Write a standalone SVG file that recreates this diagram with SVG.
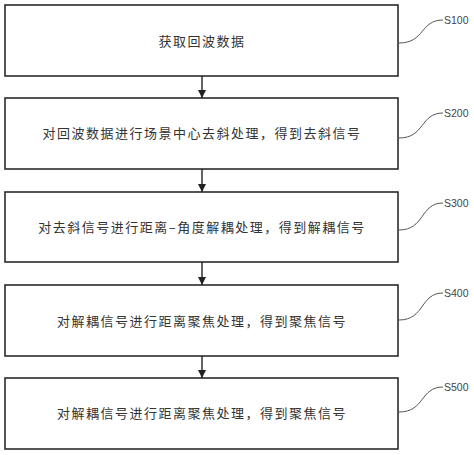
<svg xmlns="http://www.w3.org/2000/svg" width="474" height="455" viewBox="0 0 474 455">
<style>
.box{fill:#fff;stroke:#2b2b2b;stroke-width:1.6}
.t{font-family:"Noto Sans CJK SC","Liberation Sans",sans-serif;font-size:13px;fill:#333;text-anchor:middle;letter-spacing:1.5px}
.lbl{font-family:"Liberation Sans","Noto Sans",sans-serif;font-size:10.5px;fill:#444}
.lead{fill:none;stroke:#555;stroke-width:1}
.con{stroke:#222;stroke-width:1.4;fill:none}
</style>
<defs>
<marker id="ah" viewBox="0 0 10 10" refX="10" refY="5" markerWidth="8" markerHeight="8" markerUnits="userSpaceOnUse" orient="auto">
<path d="M0,0 L10,5 L0,10 z" fill="#222"/>
</marker>
</defs>
<rect width="474" height="455" fill="#fff"/>
<g id="n1">
<rect class="box" x="5" y="5" width="393" height="71"/>
<text class="t" x="202" y="46">获取回波数据</text>
<path class="lead" d="M399,43 C425,43 420,20 443,20"/>
<text class="lbl" x="444" y="24">S100</text>
</g>
<g id="n2">
<rect class="box" x="5" y="98" width="393" height="71"/>
<text class="t" x="202" y="138">对回波数据进行场景中心去斜处理，得到去斜信号</text>
<path class="lead" d="M399,138 C425,138 420,113 443,113"/>
<text class="lbl" x="444" y="117">S200</text>
</g>
<g id="n3">
<rect class="box" x="5" y="192" width="393" height="70"/>
<text class="t" x="202" y="232">对去斜信号进行距离–角度解耦处理，得到解耦信号</text>
<path class="lead" d="M399,230 C425,230 420,203 443,203"/>
<text class="lbl" x="444" y="207">S300</text>
</g>
<g id="n4">
<rect class="box" x="5" y="285" width="393" height="71"/>
<text class="t" x="202" y="326">对解耦信号进行距离聚焦处理，得到聚焦信号</text>
<path class="lead" d="M399,320 C425,320 420,293 443,293"/>
<text class="lbl" x="444" y="297">S400</text>
</g>
<g id="n5">
<rect class="box" x="5" y="378" width="393" height="71"/>
<text class="t" x="202" y="418">对解耦信号进行距离聚焦处理，得到聚焦信号</text>
<path class="lead" d="M399,412 C425,412 420,387 443,387"/>
<text class="lbl" x="444" y="391">S500</text>
</g>
<g id="connectors">
<line class="con" x1="202" y1="76" x2="202" y2="98" marker-end="url(#ah)"/>
<line class="con" x1="202" y1="169" x2="202" y2="192" marker-end="url(#ah)"/>
<line class="con" x1="202" y1="262" x2="202" y2="285" marker-end="url(#ah)"/>
<line class="con" x1="202" y1="356" x2="202" y2="378" marker-end="url(#ah)"/>
</g>
</svg>
